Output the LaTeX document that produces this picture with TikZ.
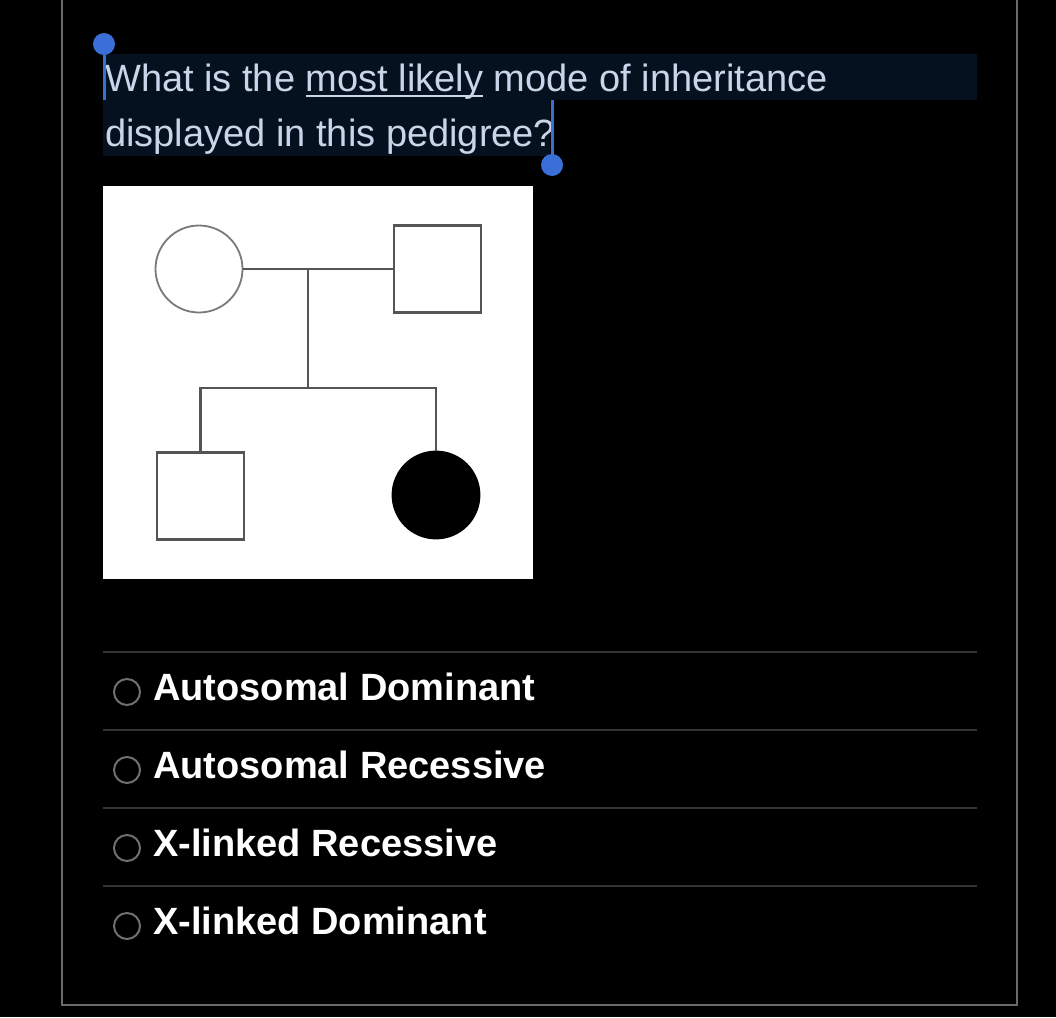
\documentclass[tikz,border=0pt]{standalone}
\usepackage{fontspec}
\setmainfont{Liberation Sans}
\usetikzlibrary{positioning}

\definecolor{framegray}{HTML}{6A6A6A}
\definecolor{rulegray}{HTML}{333333}
\definecolor{selblue}{HTML}{3A6FD8}
\definecolor{selbg}{HTML}{06111F}
\definecolor{qtext}{HTML}{C9D5E8}
\definecolor{pedline}{HTML}{555555}
\definecolor{pedcircle}{HTML}{7A7A7A}
\definecolor{radiogray}{HTML}{707070}

\newcommand{\qunderline}[1]{\setbox0\hbox{#1}\rlap{\rule[-6pt]{\wd0}{1.8pt}}\box0\relax}

\tikzset{
  person/.style={draw=pedline, line width=2.2pt, fill=white, inner sep=0pt, minimum size=87pt},
  male/.style={person, rectangle},
  female/.style={person, circle, draw=pedcircle, line width=1.8pt},
  affected/.style={fill=black, draw=black},
  kin/.style={draw=pedline, line width=2.2pt},
  question/.style={anchor=base west, text=qtext, inner sep=0pt, font=\fontsize{38}{46}\selectfont},
  option/.style={anchor=base west, text=white, inner sep=0pt, font=\fontsize{38}{45}\selectfont\bfseries},
  radio/.style={circle, draw=radiogray, line width=2pt, minimum size=26pt, inner sep=0pt},
}

\begin{document}
\begin{tikzpicture}[x=1pt, y=-1pt]
  \useasboundingbox (0,0) rectangle (1056,1017);
  % Page and card frame
  \fill[black] (0,0) rectangle (1056,1017);
  \draw[framegray, line width=2pt] (62,-2) -- (62,1005) -- (1017,1005) -- (1017,-2);

  % Selected question text
  \fill[selbg] (103,54) rectangle (977,100);
  \fill[selbg] (103,100) rectangle (550,156);
  \node[question] (q1) at (105,91) {What is the \qunderline{most likely} mode of inheritance};
  \node[question] (q2) at (105,146) {displayed in this pedigree?};

  % Selection handles
  \draw[selblue, line width=3pt] (104,44) -- (104,100);
  \fill[selblue] (104,44) circle (11pt);
  \draw[selblue, line width=3pt] (552,100) -- (552,165);
  \fill[selblue] (552,165) circle (11pt);

  % Pedigree
  \fill[white] (103,186) rectangle (533,579);
  \node[female] (mother) at (199,269) {};
  \node[male] (father) at (437.5,269) {};
  \node[male] (son) at (200.5,496) {};
  \node[female, affected] (daughter) at (436,495) {};
  \coordinate (mid) at (308,269);
  \coordinate (sib) at (308,388);
  \draw[kin] (mother) -- (father);
  \draw[kin] (mid) -- (sib);
  \draw[kin] (son.north) |- (sib) -| (daughter.north);

  % Answer options
  \foreach \i/\txt in {0/Autosomal Dominant, 1/Autosomal Recessive, 2/X-linked Recessive, 3/X-linked Dominant} {
    \draw[rulegray, line width=1.5pt] (103,{652+78*\i}) -- (977,{652+78*\i});
    \node[radio] (radio\i) at (127,{692+78*\i}) {};
    \node[option] (opt\i) at (153,{700+78*\i}) {\txt};
  }
\end{tikzpicture}
\end{document}
